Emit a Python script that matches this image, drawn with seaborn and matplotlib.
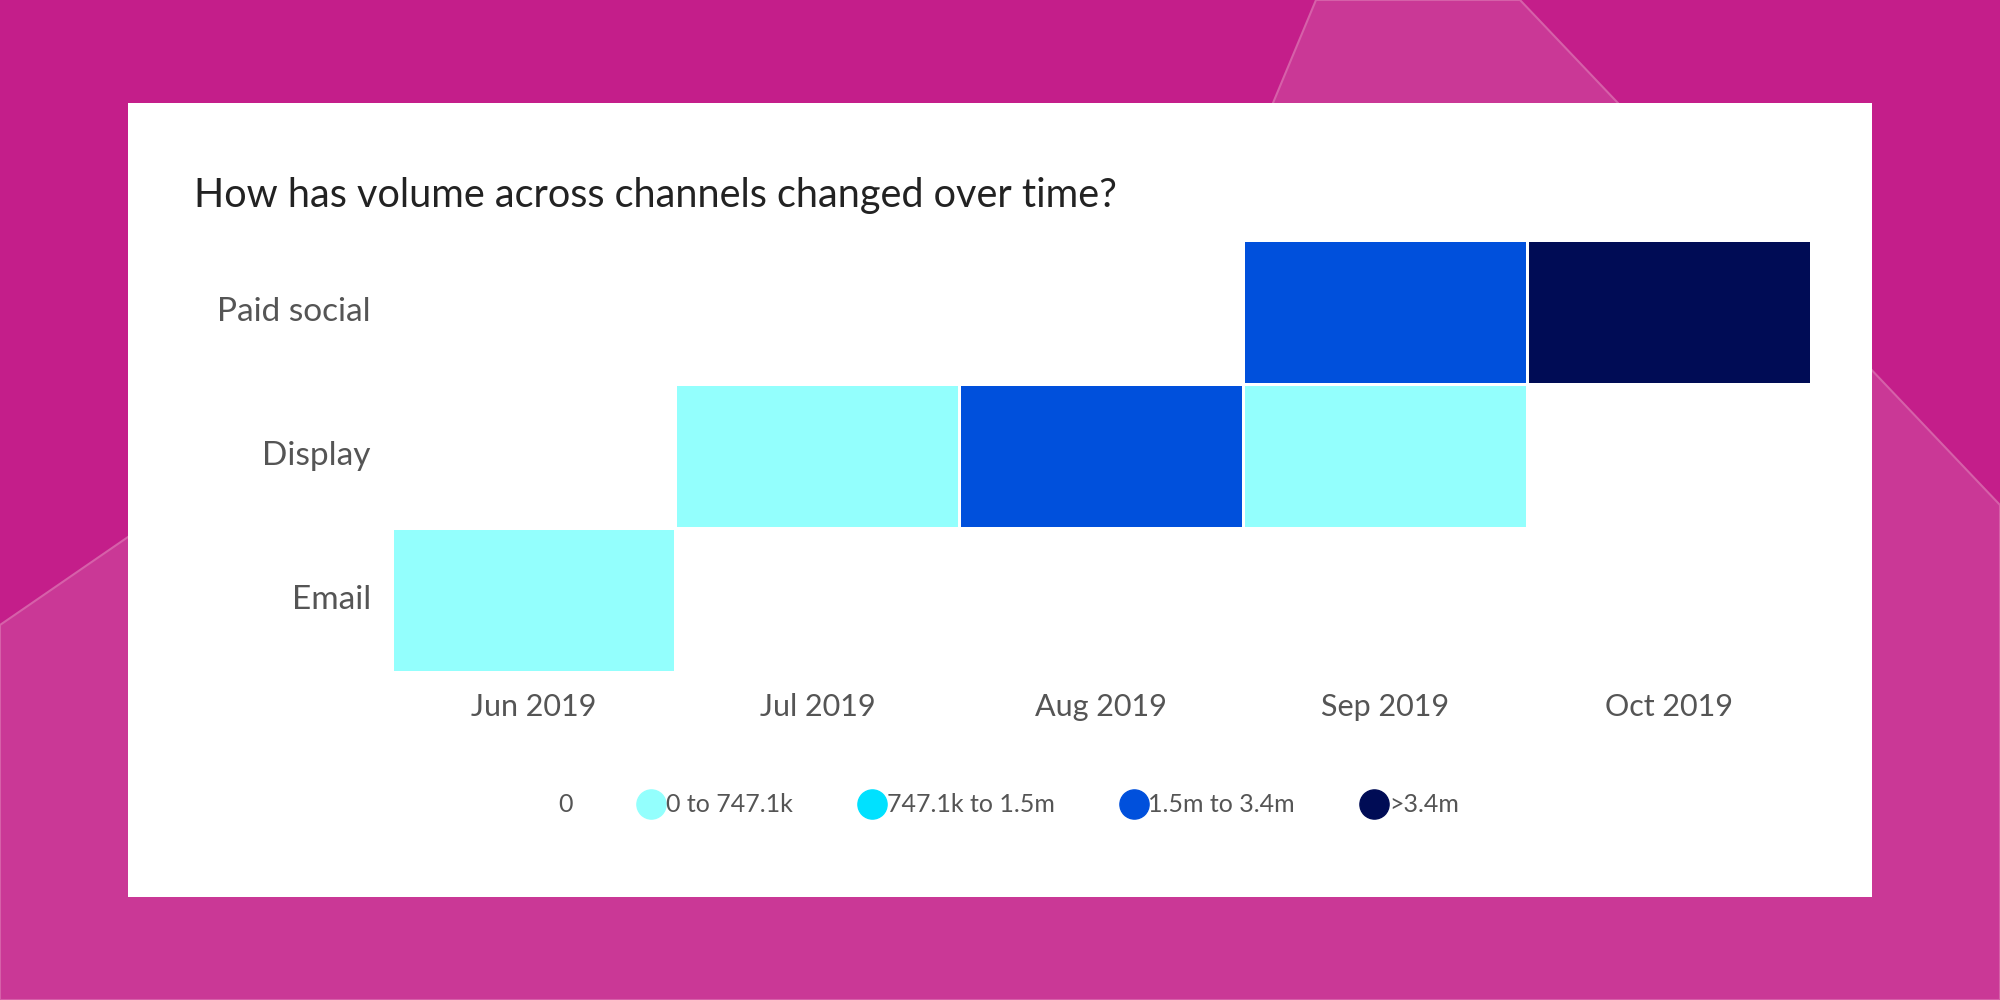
import numpy as np
import pandas as pd
import seaborn as sns
import matplotlib.pyplot as plt
from matplotlib.colors import ListedColormap, BoundaryNorm
from matplotlib.patches import Polygon, Rectangle
from matplotlib.lines import Line2D

# ---- data ----
channels = ["Paid social", "Display", "Email"]
months = ["Jun 2019", "Jul 2019", "Aug 2019", "Sep 2019", "Oct 2019"]
paid_social = [0, 0, 0, 2_400_000, 4_200_000]
display = [0, 500_000, 2_400_000, 500_000, 0]
email = [500_000, 0, 0, 0, 0]

bin_edges = [-0.5, 0.5, 747_100, 1_500_000, 3_400_000, 1e12]
bin_labels = ["0", "0 to 747.1k", "747.1k to 1.5m", "1.5m to 3.4m", ">3.4m"]
bin_colors = ["#FFFFFF", "#93FFFD", "#00E1FF", "#0050DC", "#000C55"]

df = pd.DataFrame([paid_social, display, email], index=channels, columns=months)

# ---- figure ----
sns.set_theme(style="white")
plt.rcParams['font.family'] = ['Lato', 'DejaVu Sans']

fig = plt.figure(figsize=(20, 10), dpi=100)
fig.patch.set_facecolor("#C41E8A")

W, H = 2000.0, 1000.0
def fc(pts):
    return [(x / W, 1 - y / H) for x, y in pts]

light = "#CA3896"
edge = "#D660A9"
# light background shape (hidden vertices lie behind the white panel)
fig.patches.append(Polygon(fc([(1316, 0), (1520, 0), (2000, 505), (2000, 1000), (0, 1000),
                               (0, 625), (400, 350), (1200, 300), (1273, 103)]),
                           closed=True, transform=fig.transFigure, facecolor=light,
                           edgecolor=edge, lw=1.5, zorder=0))
# white panel
fig.patches.append(Rectangle((127.5 / W, 1 - 897 / H), (1872 - 127.5) / W, (897 - 103) / H,
                             transform=fig.transFigure, facecolor="white", edgecolor="none", zorder=1))

ax = fig.add_axes([391.6 / W, 1 - 672 / H, (1811 - 391.6) / W, (672 - 240) / H])
ax.set_zorder(2)
cmap = ListedColormap(bin_colors)
norm = BoundaryNorm(bin_edges, cmap.N)
sns.heatmap(df, ax=ax, cmap=cmap, norm=norm, cbar=False, linewidths=1.0, linecolor="white")
ax.set_facecolor("white")
ax.tick_params(axis="both", length=0)
ax.set_xticklabels(months, fontsize=22, color="#555555")
ax.set_yticklabels(channels, fontsize=24, color="#555555", rotation=0)
ax.tick_params(axis="x", pad=15)
ax.tick_params(axis="y", pad=15)
ax.set_xlabel("")
ax.set_ylabel("")
for s in ax.spines.values():
    s.set_visible(False)

fig.text(194 / W, 1 - 195 / H, "How has volume across channels changed over time?",
         fontsize=28.5, color="#222222", va="center", ha="left", zorder=3)

handles = []
for i, (lab, col) in enumerate(zip(bin_labels, bin_colors)):
    handles.append(Line2D([], [], marker="o", linestyle="none", markersize=21,
                          markerfacecolor=col, markeredgecolor=col if i > 0 else "white"))
leg = fig.legend(handles, bin_labels, loc="center", bbox_to_anchor=(0.497, 1 - 805 / H), ncol=5,
                 frameon=False, fontsize=18, handletextpad=0.05, columnspacing=2.6,
                 handlelength=1.1)
for t in leg.get_texts():
    t.set_color("#555555")
leg.set_zorder(3)

fig.savefig("out.png", dpi=100, facecolor=fig.get_facecolor())
